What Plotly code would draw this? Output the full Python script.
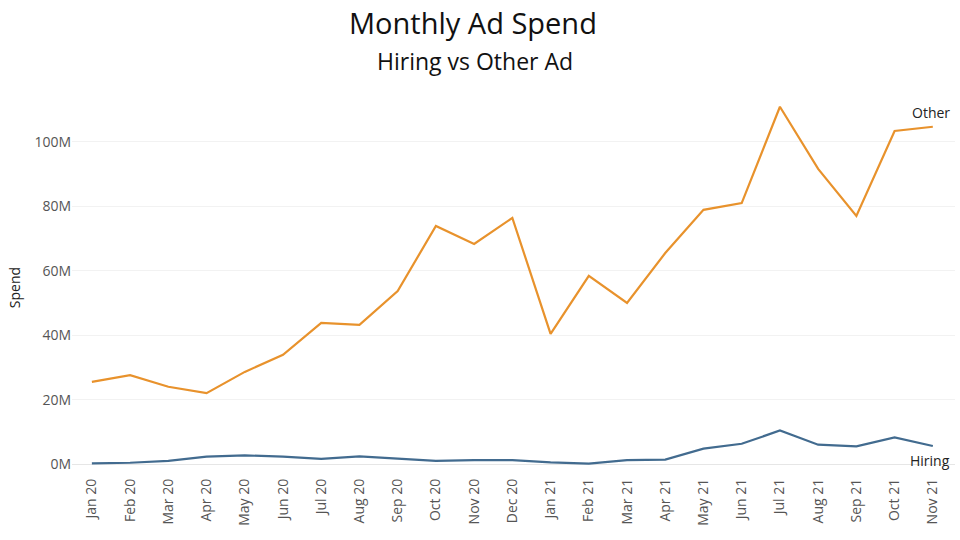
import plotly.graph_objects as go

months = ["Jan 20", "Feb 20", "Mar 20", "Apr 20", "May 20", "Jun 20", "Jul 20", "Aug 20",
          "Sep 20", "Oct 20", "Nov 20", "Dec 20", "Jan 21", "Feb 21", "Mar 21", "Apr 21",
          "May 21", "Jun 21", "Jul 21", "Aug 21", "Sep 21", "Oct 21", "Nov 21"]
other = [25.5, 27.6, 24.0, 22.0, 28.6, 33.9, 43.8, 43.2, 53.7, 73.9, 68.3, 76.4,
         40.4, 58.4, 50.0, 65.5, 78.9, 81.0, 110.9, 91.6, 77.0, 103.4, 104.7]
hiring = [0.2, 0.4, 1.0, 2.3, 2.7, 2.3, 1.6, 2.4, 1.7, 1.0, 1.2, 1.2,
          0.5, 0.1, 1.2, 1.4, 4.8, 6.3, 10.4, 6.0, 5.5, 8.3, 5.6]
other_v = [v * 1e6 for v in other]
hiring_v = [v * 1e6 for v in hiring]

ORANGE = "#E8922C"
BLUE = "#426B8F"
FONT = "Open Sans"

fig = go.Figure()
fig.add_trace(go.Scatter(x=months, y=other_v, mode="lines", name="Other",
                         line=dict(color=ORANGE, width=2.2)))
fig.add_trace(go.Scatter(x=months, y=hiring_v, mode="lines", name="Hiring",
                         line=dict(color=BLUE, width=2.2)))

fig.add_annotation(x=months[-1], y=other_v[-1], text="Other", showarrow=False,
                   xanchor="right", yanchor="bottom", xshift=19, yshift=3,
                   font=dict(family=FONT, size=14, color="#222"))
fig.add_annotation(x=months[-1], y=hiring_v[-1], text="Hiring", showarrow=False,
                   xanchor="right", yanchor="top", xshift=19, yshift=-3,
                   font=dict(family=FONT, size=14, color="#222"))

M_L, M_R, M_T, M_B = 72, 5, 100, 65
plot_h = 540 - M_T - M_B
plot_w = 960 - M_L - M_R
def py(pix):
    return (540 - M_B - pix) / plot_h
def px(pix):
    return (pix - M_L) / plot_w

fig.add_annotation(xref="paper", yref="paper", x=px(473), y=py(22),
                   text="Monthly Ad Spend", showarrow=False, xanchor="center", yanchor="middle",
                   font=dict(family=FONT, size=29, color="#111"))
fig.add_annotation(xref="paper", yref="paper", x=px(475), y=py(61), text="Hiring vs Other Ad",
                   showarrow=False, xanchor="center", yanchor="middle",
                   font=dict(family=FONT, size=23, color="#111"))

fig.update_layout(
    width=960, height=540,
    paper_bgcolor="white", plot_bgcolor="white",
    margin=dict(l=M_L, r=M_R, t=M_T, b=M_B),
    showlegend=False,
    font=dict(family=FONT, color="#555"),
)

fig.update_xaxes(type="category", tickangle=-90, range=[-0.52, 22.58], automargin=False,
                 showgrid=False, showline=False, ticks="",
                 tickfont=dict(family=FONT, size=14, color="#555"))
fig.update_yaxes(range=[-3.4e6, 113e6], tickvals=[0, 20e6, 40e6, 60e6, 80e6, 100e6],
                 ticktext=["0M", "20M", "40M", "60M", "80M", "100M"], automargin=False,
                 showgrid=True, gridcolor="#F2F2F2", gridwidth=1, zeroline=True,
                 zerolinecolor="#E6E6E6", zerolinewidth=1, showline=False,
                 tickfont=dict(family=FONT, size=14, color="#555"),
                 title=dict(text="Spend", font=dict(family=FONT, size=14, color="#222"), standoff=10))

fig.write_html("out.html", config={"displayModeBar": False},
               post_script="document.body.style.margin='0';")
